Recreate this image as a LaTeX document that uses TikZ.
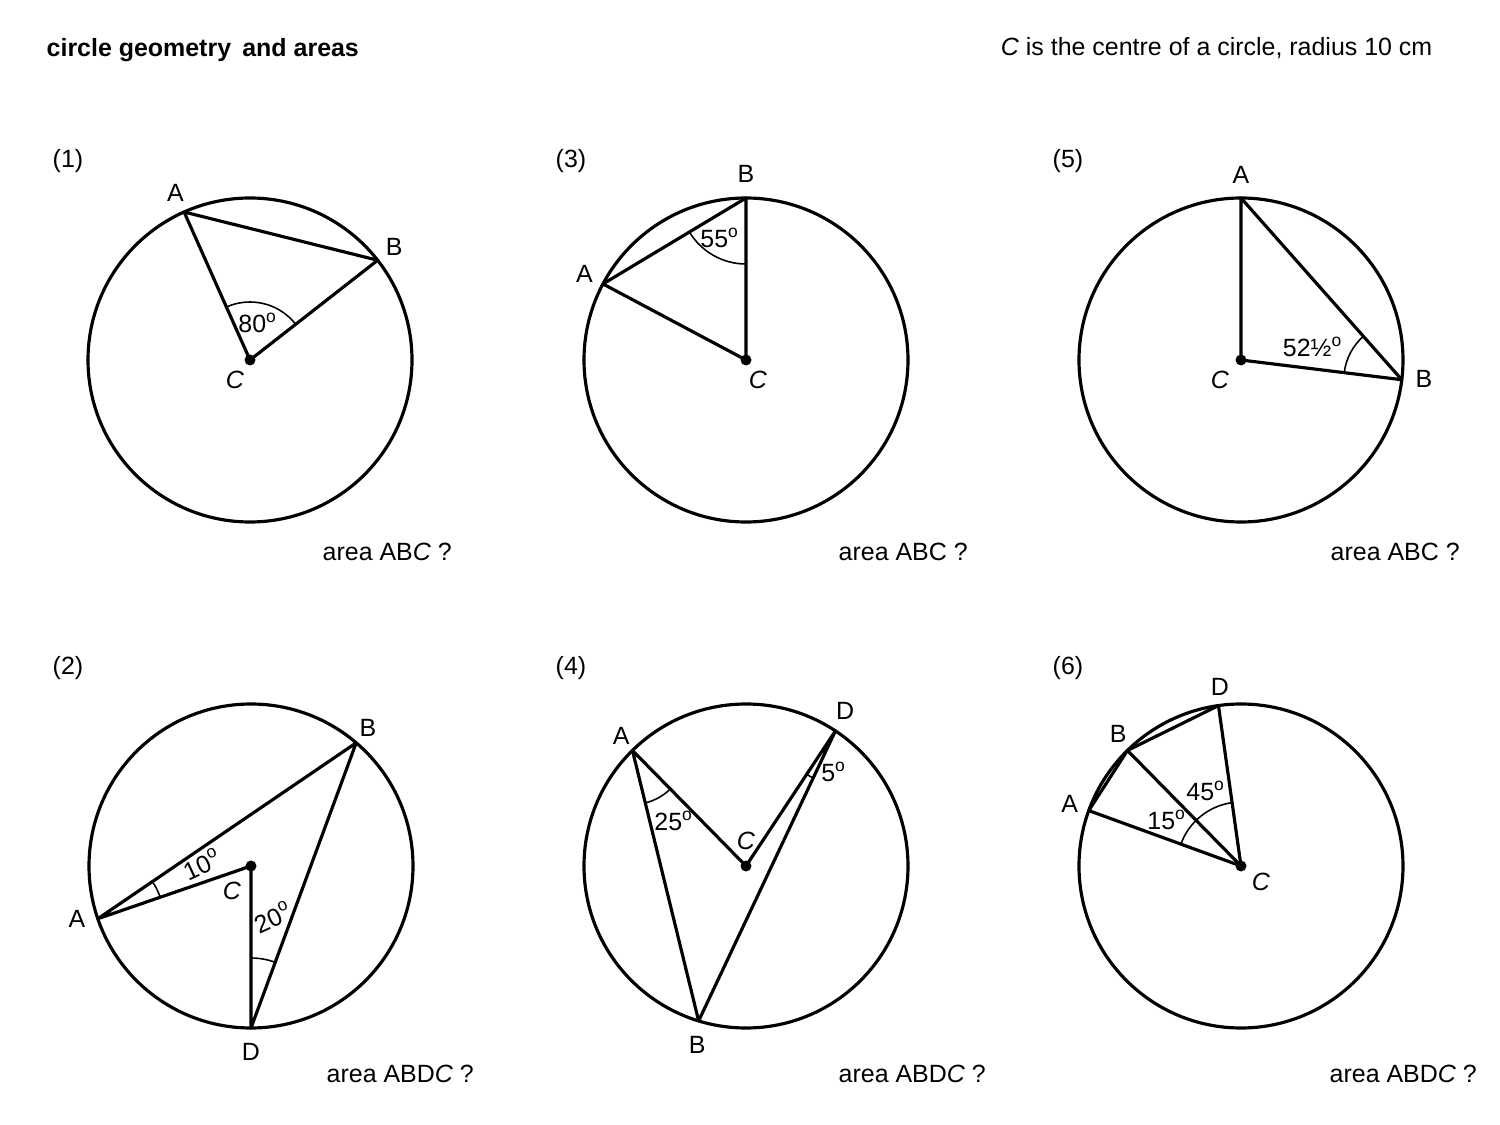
\documentclass[tikz,border=0pt]{standalone}
\usepackage{fontspec}
\setmainfont{Liberation Sans}
\usepackage{tikz}
\usetikzlibrary{positioning, calc}
\usetikzlibrary{angles}
\tikzstyle{rim}=[line width=0.9pt]
\tikzstyle{chord}=[line width=0.9pt, line join=round]
\tikzstyle{centredot}=[circle, fill=black, inner sep=0pt, minimum size=1.1mm]
\tikzstyle{anglemark}=[draw, line width=0.45pt]
\tikzstyle{textbox}=[inner sep=0pt]

\begin{document}
\begin{tikzpicture}[font=\fontsize{7.1}{8.5}\selectfont]
    \useasboundingbox (0,0) rectangle (15,11.25);

    % headings
    \node[textbox, anchor=base west] (title) at (0.46,10.68) {\textbf{circle geometry\hspace{0.45em}and areas}};
    \node[textbox, anchor=base east] (given) at (14.33,10.69) {\textit{C} is the centre of a circle, radius 10 cm};

    % (1)
    \node[textbox, anchor=base west] (n1) at (0.52,9.57) {(1)};
    \coordinate (C1) at (2.50,7.65);
    \coordinate (A1) at ($(C1)+(114:1.62)$);
    \coordinate (B1) at ($(C1)+(38:1.62)$);
    \draw[rim] (C1) circle (1.62);
    \draw[chord] (C1) -- (A1) -- (B1) -- cycle;
    \pic[anglemark, angle radius=0.58cm] {angle=B1--C1--A1};
    \node[centredot] (dot1) at (C1) {};
    \node (a1) at ($(C1)+(114:1.83)$) {A};
    \node (b1) at ($(C1)+(38:1.83)$) {B};
    \node (c1) at ($(C1)+(-0.15,-0.20)$) {\textit{C}};
    \node (g1) at ($(C1)+(0.08,0.37)$) {80\textsuperscript{o}};
    \node[textbox, anchor=base west] (q1) at (3.22,5.64) {area AB\textit{C} ?};

    % (3)
    \node[textbox, anchor=base west] (n3) at (5.55,9.57) {(3)};
    \coordinate (C3) at (7.46,7.65);
    \coordinate (A3) at ($(C3)+(152:1.62)$);
    \coordinate (B3) at ($(C3)+(90:1.62)$);
    \draw[rim] (C3) circle (1.62);
    \draw[chord] (C3) -- (A3) -- (B3) -- cycle;
    \pic[anglemark, angle radius=0.66cm] {angle=A3--B3--C3};
    \node[centredot] (dot3) at (C3) {};
    \node (a3) at ($(C3)+(152:1.83)$) {A};
    \node (b3) at ($(C3)+(90:1.86)$) {B};
    \node (c3) at ($(C3)+(0.12,-0.20)$) {\textit{C}};
    \node (g3) at ($(C3)+(-0.26,1.22)$) {55\textsuperscript{o}};
    \node[textbox, anchor=base west] (q3) at (8.38,5.64) {area ABC ?};

    % (5)
    \node[textbox, anchor=base west] (n5) at (10.52,9.57) {(5)};
    \coordinate (C5) at (12.41,7.65);
    \coordinate (A5) at ($(C5)+(90:1.62)$);
    \coordinate (B5) at ($(C5)+(-7:1.62)$);
    \draw[rim] (C5) circle (1.62);
    \draw[chord] (C5) -- (A5) -- (B5) -- cycle;
    \pic[anglemark, angle radius=0.58cm] {angle=A5--B5--C5};
    \node[centredot] (dot5) at (C5) {};
    \node (a5) at ($(C5)+(90:1.85)$) {A};
    \node (b5) at ($(C5)+(-6:1.84)$) {B};
    \node (c5) at ($(C5)+(-0.21,-0.20)$) {\textit{C}};
    \node (g5) at ($(C5)+(0.72,0.13)$) {52½\textsuperscript{o}};
    \node[textbox, anchor=base west] (q5) at (13.30,5.64) {area ABC ?};

    % (2)
    \node[textbox, anchor=base west] (n2) at (0.52,4.50) {(2)};
    \coordinate (C2) at (2.51,2.59);
    \coordinate (A2) at ($(C2)+(199:1.62)$);
    \coordinate (B2) at ($(C2)+(49.5:1.62)$);
    \coordinate (D2) at ($(C2)+(270:1.62)$);
    \draw[rim] (C2) circle (1.62);
    \draw[chord] (C2) -- (A2) -- (B2) -- (D2) -- cycle;
    \pic[anglemark, angle radius=0.66cm] {angle=C2--A2--B2};
    \pic[anglemark, angle radius=0.70cm] {angle=B2--D2--C2};
    \node[centredot] (dot2) at (C2) {};
    \node (a2) at ($(C2)+(197:1.82)$) {A};
    \node (b2) at ($(C2)+(49.8:1.81)$) {B};
    \node (d2) at ($(C2)+(270:1.86)$) {D};
    \node[textbox] (c2) at ($(C2)+(-0.19,-0.25)$) {\textit{C}};
    \node[textbox, rotate=25] (g2a) at ($(C2)+(-0.49,0.02)$) {10\textsuperscript{o}};
    \node[textbox, rotate=25] (g2b) at ($(C2)+(0.22,-0.51)$) {20\textsuperscript{o}};
    \node[textbox, anchor=base west] (q2) at (3.26,0.43) {area ABD\textit{C} ?};

    % (4)
    \node[textbox, anchor=base west] (n4) at (5.55,4.50) {(4)};
    \coordinate (C4) at (7.46,2.59);
    \coordinate (A4) at ($(C4)+(134.5:1.62)$);
    \coordinate (B4) at ($(C4)+(253:1.62)$);
    \coordinate (D4) at ($(C4)+(56.5:1.62)$);
    \draw[rim] (C4) circle (1.62);
    \draw[chord] (C4) -- (A4) -- (B4) -- (D4) -- cycle;
    \pic[anglemark, angle radius=0.54cm] {angle=B4--A4--C4};
    \pic[anglemark, angle radius=0.52cm] {angle=C4--D4--B4};
    \node[centredot] (dot4) at (C4) {};
    \node (a4) at ($(C4)+(133.9:1.80)$) {A};
    \node (b4) at ($(C4)+(254.7:1.85)$) {B};
    \node (d4) at ($(C4)+(57.4:1.84)$) {D};
    \node (c4) at ($(C4)+(0,0.25)$) {\textit{C}};
    \node (g4a) at ($(C4)+(-0.72,0.45)$) {25\textsuperscript{o}};
    \node (g4b) at ($(C4)+(0.88,0.94)$) {5\textsuperscript{o}};
    \node[textbox, anchor=base west] (q4) at (8.38,0.43) {area ABD\textit{C} ?};

    % (6)
    \node[textbox, anchor=base west] (n6) at (10.52,4.50) {(6)};
    \coordinate (C6) at (12.41,2.59);
    \coordinate (A6) at ($(C6)+(160:1.62)$);
    \coordinate (B6) at ($(C6)+(134.5:1.62)$);
    \coordinate (D6) at ($(C6)+(98:1.62)$);
    \draw[rim] (C6) circle (1.62);
    \draw[chord] (C6) -- (A6) -- (B6) -- (D6) -- cycle;
    \draw[chord] (C6) -- (B6);
    \pic[anglemark, angle radius=0.64cm] {angle=D6--C6--A6};
    \node[centredot] (dot6) at (C6) {};
    \node (a6) at ($(C6)+(160.2:1.82)$) {A};
    \node (b6) at ($(C6)+(133:1.80)$) {B};
    \node (d6) at ($(C6)+(96.7:1.80)$) {D};
    \node (c6) at ($(C6)+(0.20,-0.16)$) {\textit{C}};
    \node (g6a) at ($(C6)+(-0.74,0.46)$) {15\textsuperscript{o}};
    \node (g6b) at ($(C6)+(-0.35,0.75)$) {45\textsuperscript{o}};
    \node[textbox, anchor=base west] (q6) at (13.29,0.43) {area ABD\textit{C} ?};
\end{tikzpicture}
\end{document}
